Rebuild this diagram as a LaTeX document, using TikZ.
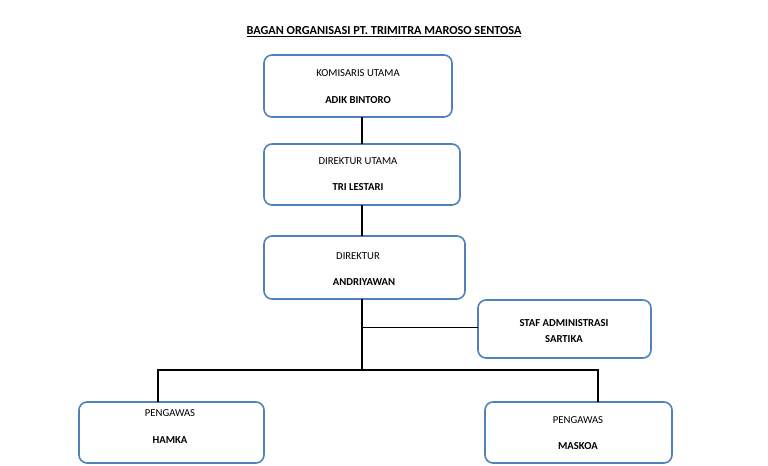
\documentclass[tikz,border=0pt]{standalone}
\usepackage{fontspec}
\setmainfont{Carlito}
\begin{document}
\begin{tikzpicture}[x=0.75pt,y=-0.75pt,
  box/.style={draw=bordercol,line width=1.2pt,rounded corners=6pt},
  lbl/.style={font=\fontsize{8}{9}\selectfont,anchor=center},
  blbl/.style={font=\fontsize{8}{9}\selectfont\bfseries,anchor=center},
  thick line/.style={line width=1.8pt,black},
]
\definecolor{bordercol}{RGB}{79,129,189}
\useasboundingbox (0,0) rectangle (768,466);
\node[font=\fontsize{9.2}{10}\selectfont\bfseries] (title) at (384,32) {\underline{BAGAN ORGANISASI PT. TRIMITRA MAROSO SENTOSA}};
\draw[box] (264,55) rectangle (452,117);
\node[lbl] (k1) at (358,73) {KOMISARIS UTAMA};
\node[blbl] (k2) at (358,100) {ADIK BINTORO};
\draw[box] (264,144) rectangle (460,205);
\node[lbl] (d1) at (358,161) {DIREKTUR UTAMA};
\node[blbl] (d2) at (358,187) {TRI LESTARI};
\draw[box] (264,236) rectangle (465,299);
\node[lbl] (r1) at (358,256) {DIREKTUR};
\node[blbl] (r2) at (364,282) {ANDRIYAWAN};
\draw[box] (478,300) rectangle (651,358);
\node[blbl] (s1) at (564,323) {STAF ADMINISTRASI};
\node[blbl] (s2) at (564,339) {SARTIKA};
\draw[box] (79,402) rectangle (264,463);
\node[lbl] (p1) at (170,413) {PENGAWAS};
\node[blbl] (p2) at (170,440) {HAMKA};
\draw[box] (485,402) rectangle (672,463);
\node[lbl] (q1) at (578,420) {PENGAWAS};
\node[blbl] (q2) at (578,446) {MASKOA};
\coordinate (a1) at (362,117); \coordinate (a2) at (362,144);
\coordinate (b1) at (362,205); \coordinate (b2) at (362,236);
\coordinate (c1) at (362,299); \coordinate (c2) at (362,370);
\coordinate (cs) at (362,327); \coordinate (se) at (478,327);
\coordinate (hl) at (158,370); \coordinate (hr) at (598,370);
\coordinate (pl) at (158,402); \coordinate (pr) at (598,402);
\draw[thick line] (a1) -- (a2);
\draw[thick line] (b1) -- (b2);
\draw[thick line] (c1) -- (c2);
\draw[line width=0.6pt] (cs) -- (se);
\draw[thick line] (pl) -- (hl) -- (hr) -- (pr);
\end{tikzpicture}
\end{document}
